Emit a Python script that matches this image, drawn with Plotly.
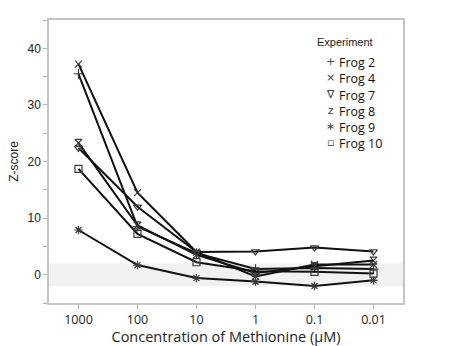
import plotly.graph_objects as go

concentrations = ["1000", "100", "10", "1", "0.1", "0.01"]
frog_names = ["Frog 2", "Frog 4", "Frog 7", "Frog 8", "Frog 9", "Frog 10"]
frog2 = [35.5, 8.5, 3.8, 1.0, 1.2, 1.0]
frog4 = [37.2, 14.5, 4.0, -0.3, 1.8, 1.8]
frog7 = [22.4, 12.0, 4.0, 4.1, 4.8, 4.1]
frog8 = [23.3, 8.7, 3.5, 0.3, 1.5, 2.5]
frog9 = [7.9, 1.7, -0.6, -1.2, -2.0, -1.0]
frog10 = [18.7, 7.2, 2.2, 0.6, 0.5, 0.2]
series = [frog2, frog4, frog7, frog8, frog9, frog10]
symbols = ["cross-thin-open", "x-thin-open", "triangle-down-open",
           "hourglass-open", "asterisk-open", "square-open"]
legend_glyphs = ["+", "×", "∇", "z", "∗", "▫"]
legend_title = "Experiment"
band_low, band_high = -2, 2

fig = go.Figure()
for name, vals, sym in zip(frog_names, series, symbols):
    fig.add_trace(go.Scatter(
        x=concentrations, y=vals, mode="lines+markers", name=name,
        line=dict(color="#111111", width=2),
        marker=dict(symbol=sym, size=7, color="#3a3a3a",
                    line=dict(color="#3a3a3a", width=1.2)),
        showlegend=False,
    ))

fig.add_shape(type="rect", xref="paper", x0=0, x1=1, yref="y",
              y0=band_low, y1=band_high, fillcolor="#f0f1f3",
              line=dict(width=0), layer="below")

# plot area in pixels: x 49..403, y 20..303
def px_x(x):
    return (x - 49) / 354.0

def px_y(y):
    return 1 - (y - 20) / 283.0

legend_size = 12.5
fig.add_annotation(text=legend_title, xref="paper", yref="paper",
                   x=px_x(345), y=px_y(42), xanchor="center", yanchor="middle",
                   showarrow=False,
                   font=dict(family="Liberation Sans", size=11, color="#222222"))
glyph_text = "<br>".join(
    '<span style="font-size:11px">%s</span>' % g for g in legend_glyphs)
fig.add_annotation(text=glyph_text, xref="paper", yref="paper",
                   x=px_x(330), y=px_y(53), xanchor="center", yanchor="top",
                   align="center", showarrow=False,
                   font=dict(family="DejaVu Sans", size=legend_size, color="#444444"))
fig.add_annotation(text="<br>".join(frog_names), xref="paper", yref="paper",
                   x=px_x(337), y=px_y(52), xanchor="left", yanchor="top",
                   align="left", showarrow=False,
                   font=dict(family="Open Sans", size=legend_size, color="#111111"))

fig.update_layout(
    width=474, height=346,
    margin=dict(l=49, r=71, t=20, b=43),
    paper_bgcolor="white", plot_bgcolor="white",
    font=dict(family="Open Sans", color="#222222"),
    showlegend=False,
    xaxis=dict(
        type="category", categoryorder="array", categoryarray=concentrations,
        range=[-0.5, 5.5], automargin=False,
        showline=True, mirror=True, linecolor="#c4c4c4", linewidth=1.5,
        ticks="outside", ticklen=4, tickcolor="#b0b0b0",
        showgrid=False, zeroline=False,
        tickfont=dict(family="Open Sans", size=12.5, color="#222222"),
        title=dict(text="Concentration of Methionine (µM)",
                   font=dict(family="Open Sans", size=14.5, color="#222222"),
                   standoff=6),
    ),
    yaxis=dict(
        range=[-5, 45], tickvals=[0, 10, 20, 30, 40], automargin=False,
        showline=True, mirror=True, linecolor="#c4c4c4", linewidth=1.5,
        ticks="outside", ticklen=4, tickcolor="#b0b0b0",
        minor=dict(dtick=5, tick0=-5, ticks="outside", ticklen=4, tickcolor="#b0b0b0"),
        showgrid=False, zeroline=False,
        tickfont=dict(family="Liberation Sans", size=12, color="#222222"),
        title=dict(text="Z-score",
                   font=dict(family="Liberation Sans", size=12, color="#222222"),
                   standoff=6),
    ),
)

fig.write_html("out.html")
